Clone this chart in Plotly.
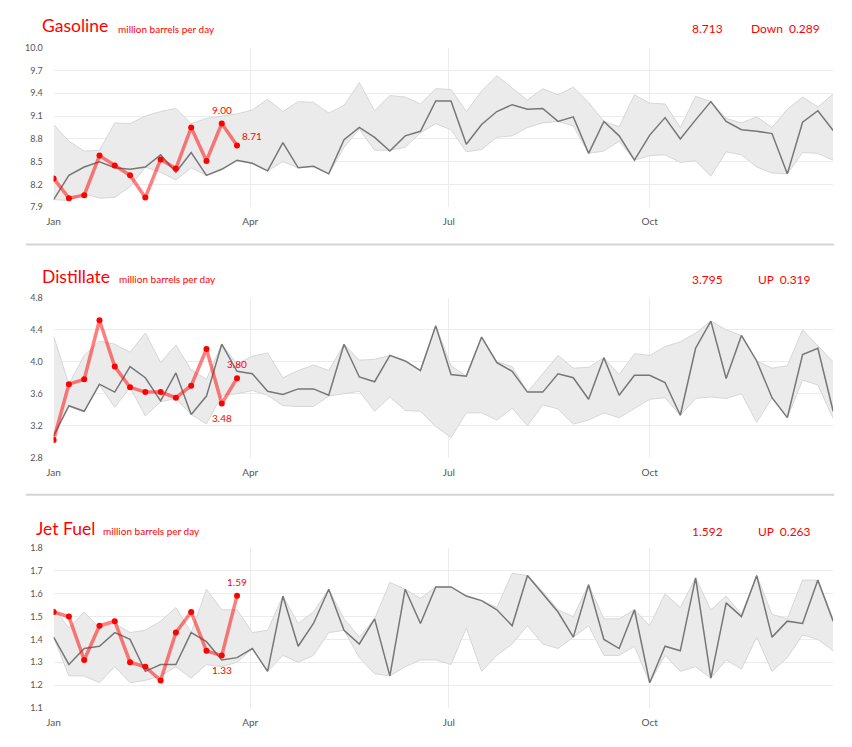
import plotly.graph_objects as go
import pandas as pd

W, H = 852, 747
FONT = "Lato"

weeks = pd.date_range("2018-01-01", periods=52, freq="7D")
month_ticks = ["2018-01-01", "2018-04-01", "2018-07-01", "2018-10-01"]
month_labels = ["Jan", "Apr", "Jul", "Oct"]

gas_cur = [8.28, 8.02, 8.06, 8.58, 8.45, 8.32, 8.03, 8.53, 8.41, 8.95, 8.51, 9.002, 8.713]
gas_avg = [8.00, 8.32, 8.43, 8.50, 8.42, 8.40, 8.43, 8.59, 8.36, 8.62,
           8.32, 8.40, 8.52, 8.48, 8.38, 8.75, 8.42, 8.44, 8.34, 8.79,
           8.95, 8.82, 8.64, 8.84, 8.90, 9.30, 9.30, 8.73, 8.99, 9.16,
           9.25, 9.19, 9.20, 9.03, 9.09, 8.61, 9.03, 8.84, 8.52, 8.85,
           9.08, 8.80, 9.05, 9.29, 9.03, 8.92, 8.90, 8.87, 8.34, 9.02,
           9.17, 8.91]
gas_hi = [8.99, 8.77, 8.64, 8.65, 9.01, 9.00, 9.10, 9.16, 9.20, 9.00,
          9.07, 9.10, 9.13, 9.18, 9.32, 9.16, 9.29, 9.28, 9.14, 9.24,
          9.54, 9.17, 9.37, 9.35, 9.26, 9.46, 9.45, 9.16, 9.43, 9.63,
          9.47, 9.31, 9.46, 9.38, 9.48, 9.28, 9.03, 8.96, 9.38, 9.27,
          9.26, 8.95, 9.36, 9.29, 9.07, 9.01, 9.09, 8.95, 9.19, 9.35,
          9.22, 9.39]
gas_lo = [8.00, 7.99, 8.08, 8.02, 8.03, 8.17, 8.43, 8.36, 8.26, 8.42,
          8.32, 8.40, 8.51, 8.48, 8.38, 8.50, 8.42, 8.44, 8.34, 8.69,
          8.93, 8.65, 8.65, 8.69, 8.88, 9.00, 8.92, 8.63, 8.66, 8.82,
          8.84, 8.95, 9.01, 9.03, 8.97, 8.61, 8.64, 8.77, 8.52, 8.58,
          8.59, 8.49, 8.51, 8.31, 8.63, 8.59, 8.43, 8.35, 8.34, 8.62,
          8.61, 8.52]
gas_ticks = [7.9, 8.2, 8.5, 8.8, 9.1, 9.4, 9.7, 10.0]

dist_cur = [3.02, 3.72, 3.78, 4.52, 3.94, 3.68, 3.62, 3.62, 3.55, 3.70, 4.16, 3.476, 3.7952]
dist_avg = [3.07, 3.45, 3.38, 3.72, 3.62, 3.94, 3.80, 3.51, 3.86, 3.34,
            3.57, 4.22, 3.88, 3.85, 3.63, 3.59, 3.66, 3.66, 3.58, 4.22,
            3.81, 3.75, 4.08, 4.01, 3.89, 4.45, 3.84, 3.82, 4.31, 3.99,
            3.88, 3.62, 3.62, 3.85, 3.80, 3.53, 4.05, 3.58, 3.83, 3.83,
            3.74, 3.33, 4.17, 4.51, 3.79, 4.33, 4.01, 3.55, 3.30, 4.09,
            4.17, 3.38]
dist_hi = [4.32, 3.72, 4.08, 4.26, 4.22, 4.12, 4.36, 3.99, 4.21, 3.90,
           3.78, 4.22, 3.97, 4.07, 4.11, 3.80, 3.89, 3.96, 3.89, 4.22,
           4.02, 4.03, 4.08, 4.01, 3.89, 4.45, 3.95, 3.82, 4.31, 4.00,
           3.94, 3.62, 3.85, 4.08, 3.92, 3.93, 4.05, 3.84, 4.10, 4.08,
           4.19, 4.25, 4.36, 4.51, 4.40, 4.33, 4.01, 3.92, 3.95, 4.40,
           4.20, 4.00]
dist_lo = [3.07, 3.44, 3.37, 3.71, 3.43, 3.68, 3.32, 3.50, 3.54, 3.34,
           3.22, 3.58, 3.60, 3.64, 3.58, 3.45, 3.44, 3.44, 3.57, 3.60,
           3.63, 3.38, 3.56, 3.39, 3.38, 3.19, 3.05, 3.36, 3.36, 3.27,
           3.42, 3.20, 3.46, 3.41, 3.22, 3.27, 3.36, 3.30, 3.42, 3.53,
           3.55, 3.33, 3.54, 3.56, 3.54, 3.60, 3.24, 3.55, 3.30, 3.77,
           3.71, 3.29]
dist_ticks = [2.8, 3.2, 3.6, 4.0, 4.4, 4.8]

jet_cur = [1.52, 1.50, 1.31, 1.46, 1.48, 1.30, 1.28, 1.22, 1.43, 1.52, 1.35, 1.329, 1.592]
jet_avg = [1.41, 1.29, 1.36, 1.37, 1.43, 1.40, 1.26, 1.29, 1.29, 1.43,
           1.39, 1.31, 1.32, 1.36, 1.26, 1.59, 1.37, 1.47, 1.62, 1.44,
           1.38, 1.49, 1.24, 1.62, 1.47, 1.63, 1.63, 1.59, 1.57, 1.53,
           1.46, 1.68, 1.60, 1.52, 1.41, 1.64, 1.40, 1.36, 1.53, 1.21,
           1.37, 1.35, 1.67, 1.23, 1.56, 1.50, 1.68, 1.41, 1.48, 1.47,
           1.66, 1.48]
jet_hi = [1.54, 1.45, 1.52, 1.45, 1.47, 1.43, 1.44, 1.48, 1.54, 1.43,
          1.62, 1.53, 1.53, 1.43, 1.44, 1.59, 1.47, 1.52, 1.62, 1.49,
          1.41, 1.49, 1.65, 1.62, 1.58, 1.63, 1.63, 1.59, 1.57, 1.54,
          1.69, 1.68, 1.61, 1.53, 1.50, 1.64, 1.49, 1.49, 1.53, 1.46,
          1.60, 1.54, 1.67, 1.53, 1.59, 1.51, 1.68, 1.51, 1.49, 1.66,
          1.66, 1.49]
jet_lo = [1.41, 1.24, 1.24, 1.21, 1.28, 1.21, 1.22, 1.24, 1.28, 1.23,
          1.29, 1.28, 1.30, 1.36, 1.26, 1.33, 1.30, 1.33, 1.43, 1.44,
          1.32, 1.25, 1.24, 1.28, 1.31, 1.31, 1.29, 1.45, 1.26, 1.33,
          1.38, 1.46, 1.38, 1.36, 1.41, 1.46, 1.33, 1.33, 1.37, 1.21,
          1.33, 1.26, 1.28, 1.23, 1.31, 1.27, 1.41, 1.26, 1.32, 1.42,
          1.40, 1.35]
jet_ticks = [1.1, 1.2, 1.3, 1.4, 1.5, 1.6, 1.7, 1.8]

panels = [
    dict(title="Gasoline", cur=gas_cur, avg=gas_avg, hi=gas_hi, lo=gas_lo, ticks=gas_ticks,
         top=42.3, bottom=204.3, title_y=20, title_x=33, sub_x=110, change="Down", change_x=748,
         labels=[(11, "above"), (12, "right")]),
    dict(title="Distillate", cur=dist_cur, avg=dist_avg, hi=dist_hi, lo=dist_lo, ticks=dist_ticks,
         top=296.3, bottom=458.3, title_y=274.5, title_x=33, sub_x=111, change="UP", change_x=755,
         labels=[(12, "above"), (11, "below")]),
    dict(title="Jet Fuel", cur=jet_cur, avg=jet_avg, hi=jet_hi, lo=jet_lo, ticks=jet_ticks,
         top=550.3, bottom=712.3, title_y=530, title_x=27, sub_x=95, change="UP", change_x=755,
         labels=[(12, "above"), (11, "below")]),
]

fig = go.Figure()
layout = dict(width=W, height=H, margin=dict(l=0, r=0, t=0, b=0, pad=0),
              paper_bgcolor="white", plot_bgcolor="white", showlegend=False,
              font=dict(family=FONT, color="#555"))
annotations = []
shapes = []

x0, x1 = 47 / W, 833 / W
for i, p in enumerate(panels):
    sfx = "" if i == 0 else str(i + 1)
    xa, ya = "x" + sfx, "y" + sfx
    common = dict(xaxis=xa, yaxis=ya, showlegend=False, hoverinfo="skip")
    fig.add_trace(go.Scatter(x=weeks, y=p["hi"], mode="lines",
                             line=dict(color="#d6d6d6", width=1), **common))
    fig.add_trace(go.Scatter(x=weeks, y=p["lo"], mode="lines", fill="tonexty",
                             fillcolor="#ebebeb", line=dict(color="#d6d6d6", width=1), **common))
    fig.add_trace(go.Scatter(x=weeks, y=p["avg"], mode="lines",
                             line=dict(color="#777777", width=1.5), **common))
    fig.add_trace(go.Scatter(x=weeks[:len(p["cur"])], y=p["cur"], mode="lines+markers",
                             line=dict(color="rgba(255,0,0,0.5)", width=3.5),
                             marker=dict(color="#ff0000", size=6), **common))

    ticks = p["ticks"]
    layout["xaxis" + sfx] = dict(domain=[x0, x1], anchor=ya, type="date",
                                 range=[weeks[0], weeks[-1]],
                                 tickvals=month_ticks, ticktext=month_labels,
                                 showgrid=True, gridcolor="#ececec", gridwidth=1,
                                 zeroline=False, showline=False,
                                 ticks="outside", ticklen=5, tickcolor="rgba(0,0,0,0)",
                                 tickfont=dict(family=FONT, size=10, color="#555"))
    layout["yaxis" + sfx] = dict(domain=[1 - p["bottom"] / H, 1 - p["top"] / H], anchor=xa,
                                 range=[ticks[0], ticks[-1]], tickvals=ticks,
                                 tickformat=".1f",
                                 showgrid=True, gridcolor="#ececec", gridwidth=1,
                                 zeroline=False, showline=False,
                                 ticks="outside", ticklen=8, tickcolor="rgba(0,0,0,0)",
                                 tickfont=dict(family=FONT, size=9, color="#555"))

    ty = 1 - p["title_y"] / H
    annotations.append(dict(xref="paper", yref="paper", x=p["title_x"] / W, y=ty,
                            xanchor="left", yanchor="middle", text=p["title"], showarrow=False,
                            font=dict(family=FONT, size=17.5, color="#ff0000")))
    annotations.append(dict(xref="paper", yref="paper", x=p["sub_x"] / W, y=ty - 3 / H,
                            xanchor="left", yanchor="middle",
                            text="million barrels per day", showarrow=False,
                            font=dict(family=FONT, size=10, color="#ff0000")))
    last, prev = p["cur"][-1], p["cur"][-2]
    annotations.append(dict(xref="paper", yref="paper", x=724 / W, y=ty - 3 / H,
                            xanchor="right", yanchor="middle",
                            text=f"{last:.3f}", showarrow=False,
                            font=dict(family=FONT, size=12, color="#ff0000")))
    annotations.append(dict(xref="paper", yref="paper", x=p["change_x"] / W, y=ty - 3 / H,
                            xanchor="left", yanchor="middle",
                            text=f"{p['change']}\u00a0\u00a0{abs(last - prev):.3f}", showarrow=False,
                            font=dict(family=FONT, size=12, color="#ff0000")))
    for idx, pos in p["labels"]:
        a = dict(xref=xa, yref=ya, x=weeks[idx], y=p["cur"][idx], text=f"{p['cur'][idx]:.2f}",
                 showarrow=False, font=dict(family=FONT, size=10, color="#ff0000"))
        if pos == "above":
            a.update(yanchor="bottom", yshift=6)
        elif pos == "below":
            a.update(yanchor="top", yshift=-6)
        else:
            a.update(xanchor="left", xshift=3, yshift=9)
        annotations.append(a)

for sy in (242, 496):
    shapes.append(dict(type="line", xref="paper", yref="paper", x0=19 / W, x1=834 / W,
                       y0=1 - sy / H, y1=1 - sy / H, line=dict(color="#d4d4d4", width=2)))

layout["annotations"] = annotations
layout["shapes"] = shapes
fig.update_layout(**layout)
fig.write_html("out.html", config={"displayModeBar": False},
               post_script="document.body.style.margin='0';document.body.style.overflow='hidden';")
